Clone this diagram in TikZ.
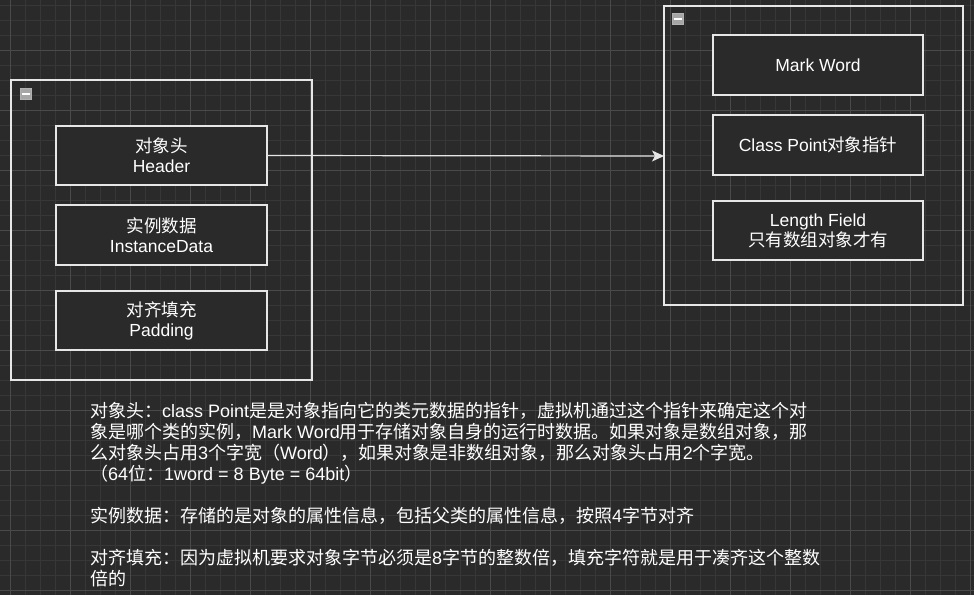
\documentclass[tikz,border=0pt]{standalone}
\usepackage{fontspec}
\usetikzlibrary{arrows.meta}
\setmainfont{Liberation Sans}
\newfontfamily\cjk{Noto Sans CJK SC}
\newcommand{\zh}[1]{{\cjk #1}}
\definecolor{bg}{HTML}{2A2A2A}
\definecolor{gmin}{HTML}{373737}
\definecolor{gmaj}{HTML}{4A4A4A}
\definecolor{lin}{HTML}{E6E6E6}
\begin{document}
\begin{tikzpicture}[x=1pt,y=-1pt,
  cont/.style={draw=lin,line width=1.2pt},
  box/.style={draw=lin,line width=1.2pt,fill=bg,text=white,font=\fontsize{17.5}{20}\selectfont,align=center},
  icon/.style={draw=gray!60,fill=gray!70,minimum size=11pt,inner sep=0pt},
  txt/.style={anchor=base west,text=white,inner sep=0pt,font=\fontsize{18}{21}\selectfont}]
\fill[bg] (0,0) rectangle (974,595);
\useasboundingbox (0,0) rectangle (974,595);
\foreach \x in {10,25,...,974} \draw[gmin,line width=0.8pt] (\x,0) -- (\x,595);
\foreach \y in {5,20,...,595} \draw[gmin,line width=0.8pt] (0,\y) -- (974,\y);
\foreach \x in {10,70,...,974} \draw[gmaj,line width=0.8pt] (\x,0) -- (\x,595);
\foreach \y in {50,110,...,595} \draw[gmaj,line width=0.8pt] (0,\y) -- (974,\y);

\draw[cont] (11,80) rectangle (312,380);
\node[icon] (i1) at (26,94) {};
\draw[white,line width=1.5pt] (22,94) -- (30,94);
\node[box,minimum width=211pt,minimum height=59pt] (h) at (161.5,155.5) {\zh{对象头}\\Header};
\node[box,minimum width=211pt,minimum height=60pt] (d) at (161.5,235) {\zh{实例数据}\\InstanceData};
\node[box,minimum width=211pt,minimum height=59pt] (p) at (161.5,320.5) {\zh{对齐填充}\\Padding};

\draw[cont] (664,6) rectangle (963,305);
\coordinate (rc) at (664,156);
\node[icon] (i2) at (678,19) {};
\draw[white,line width=1.5pt] (674,19) -- (682,19);
\node[box,minimum width=210pt,minimum height=60pt] (m) at (818,65) {Mark Word};
\node[box,minimum width=210pt,minimum height=60pt] (c) at (818,145) {Class Point\zh{对象指针}};
\node[box,minimum width=210pt,minimum height=59pt] (l) at (818,230.5) {Length Field\\\zh{只有数组对象才有}};

\draw[lin,line width=1.2pt,-{Stealth[length=12pt,width=11pt,inset=3pt]}] (h.east) -- (rc);

\node[txt] (t1) at (90,417) {\zh{对象头：}class Point\zh{是是对象指向它的类元数据的指针，虚拟机通过这个指针来确定这个对}};
\node[txt] (t2) at (90,438) {\zh{象是哪个类的实例，}Mark Word\zh{用于存储对象自身的运行时数据。如果对象是数组对象，那}};
\node[txt] (t3) at (90,459) {\zh{么对象头占用}3\zh{个字宽（}Word\zh{），如果对象是非数组对象，那么对象头占用}2\zh{个字宽。}};
\node[txt] (t4) at (90,480) {\zh{（}64\zh{位：}1word = 8 Byte = 64bit\zh{）}};
\node[txt] (t5) at (90,522) {\zh{实例数据：存储的是对象的属性信息，包括父类的属性信息，按照}4\zh{字节对齐}};
\node[txt] (t6) at (90,564) {\zh{对齐填充：因为虚拟机要求对象字节必须是}8\zh{字节的整数倍，填充字符就是用于凑齐这个整数}};
\node[txt] (t7) at (90,585) {\zh{倍的}};
\end{tikzpicture}
\end{document}
